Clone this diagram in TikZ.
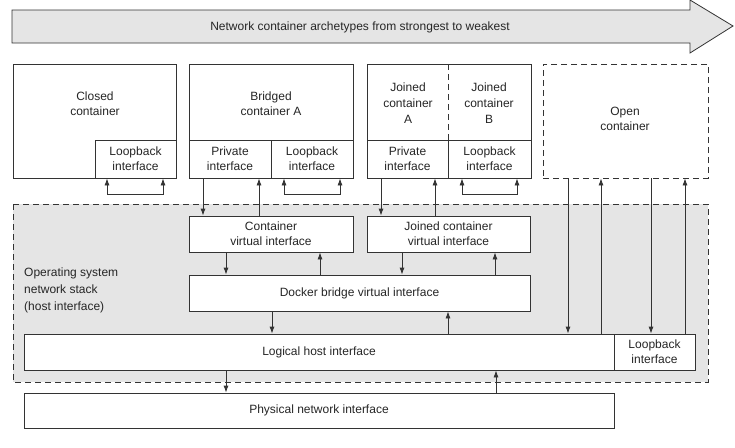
\documentclass[tikz,border=0pt]{standalone}
\usepackage{fontspec}
\setmainfont{Liberation Sans}
\usetikzlibrary{arrows.meta}
\newcommand\mybox[7][]{%
  \pgfmathsetmacro\bw{#4-#2}\pgfmathsetmacro\bh{#5-#3}%
  \pgfmathsetmacro\cx{(#2+#4)/2}\pgfmathsetmacro\cy{(#3+#5)/2}%
  \node[bx,minimum width=\bw pt,minimum height=\bh pt,#1] (#6) at (\cx,\cy) {#7};}
\tikzset{
  fnt/.style={font=\fontsize{12}{15}\selectfont,text=black!85},
  bx/.style={fnt,draw=black!80,fill=white,line width=0.8pt,inner sep=0pt,align=center},
  dsh/.style={dash pattern=on 6pt off 4pt},
  ar/.style={-{Latex[length=7pt,width=5pt]},line width=0.8pt,draw=black!80},
  br/.style={{Latex[length=7pt,width=5pt]}-{Latex[length=7pt,width=5pt]},line width=0.8pt,draw=black!80}
}
\begin{document}
\begin{tikzpicture}[x=1pt,y=-1pt]
\useasboundingbox (0,0) rectangle (735,447);
\fill[white] (0,0) rectangle (735,447);
% banner arrow
\draw[line width=0.8pt,draw=black!80,fill=black!10] (12,10) -- (690,10) -- (690,0) -- (733,26) -- (690,53) -- (690,43) -- (12,43) -- cycle;
\node[fnt] (title) at (360,27) {Network container archetypes from strongest to weakest};
% host area
\draw[dsh,line width=0.8pt,draw=black!80,fill=black!10] (13,204) rectangle (708,382);
\node[fnt,align=left,anchor=north west,inner sep=0pt,font=\fontsize{12}{17}\selectfont] (os) at (24,268) {Operating system\\network stack\\(host interface)};
% containers
\mybox{13}{64}{176}{178}{closed}{}
\node[fnt,align=center] (closedt) at (95,104) {Closed\\container};
\mybox{95}{140}{176}{178}{closedlo}{Loopback\\interface}
\mybox{189}{64}{353}{178}{bridged}{}
\node[fnt,align=center] (bridgedt) at (271,104) {Bridged\\container A};
\mybox{189}{140}{271}{178}{brpriv}{Private\\interface}
\mybox{271}{140}{353}{178}{brlo}{Loopback\\interface}
\mybox{367}{64}{531}{178}{joined}{}
\draw[dsh,line width=0.8pt,draw=black!80] (448,64) -- (448,140);
\node[fnt,align=center,font=\fontsize{12}{16}\selectfont] (joinedA) at (408,103) {Joined\\container\\A};
\node[fnt,align=center,font=\fontsize{12}{16}\selectfont] (joinedB) at (489,103) {Joined\\container\\B};
\mybox{367}{140}{448}{178}{jpriv}{Private\\interface}
\mybox{448}{140}{531}{178}{jlo}{Loopback\\interface}
\mybox[dsh]{543}{64}{708}{178}{open}{}
\node[fnt,align=center] (opent) at (625,119) {Open\\container};
% host boxes
\mybox{189}{216}{353}{252}{cvi}{Container\\virtual interface}
\mybox{367}{216}{530}{252}{jvi}{Joined container\\virtual interface}
\mybox{189}{275}{530}{311}{dock}{Docker bridge virtual interface}
\mybox{24}{334}{614}{370}{logic}{Logical host interface}
\mybox{614}{334}{695}{370}{hostlo}{Loopback\\interface}
\mybox{24}{393}{614}{428}{phys}{Physical network interface}
% loopback brackets
\draw[br] (closedlo.south -| 107,0) -- ++(0,16) -| (closedlo.south -| 163,0);
\draw[br] (brlo.south -| 284,0) -- ++(0,16) -| (brlo.south -| 340,0);
\draw[br] (jlo.south -| 462,0) -- ++(0,16) -| (jlo.south -| 517,0);
% container <-> virtual
\draw[ar] (brpriv.south -| 203,0) -- (cvi.north -| 203,0);
\draw[ar] (cvi.north -| 259,0) -- (brpriv.south -| 259,0);
\draw[ar] (jpriv.south -| 381,0) -- (jvi.north -| 381,0);
\draw[ar] (jvi.north -| 435,0) -- (jpriv.south -| 435,0);
% virtual <-> docker
\draw[ar] (cvi.south -| 226,0) -- (dock.north -| 226,0);
\draw[ar] (dock.north -| 320,0) -- (cvi.south -| 320,0);
\draw[ar] (jvi.south -| 402,0) -- (dock.north -| 402,0);
\draw[ar] (dock.north -| 495,0) -- (jvi.south -| 495,0);
% docker <-> logical
\draw[ar] (dock.south -| 272,0) -- (logic.north -| 272,0);
\draw[ar] (logic.north -| 448,0) -- (dock.south -| 448,0);
% open
\draw[ar] (open.south -| 568,0) -- (logic.north -| 568,0);
\draw[ar] (logic.north -| 601,0) -- (open.south -| 601,0);
\draw[ar] (open.south -| 651,0) -- (hostlo.north -| 651,0);
\draw[ar] (hostlo.north -| 685,0) -- (open.south -| 685,0);
% logical <-> physical
\draw[ar] (logic.south -| 226,0) -- (phys.north -| 226,0);
\draw[ar] (phys.north -| 496,0) -- (logic.south -| 496,0);
\end{tikzpicture}
\end{document}
